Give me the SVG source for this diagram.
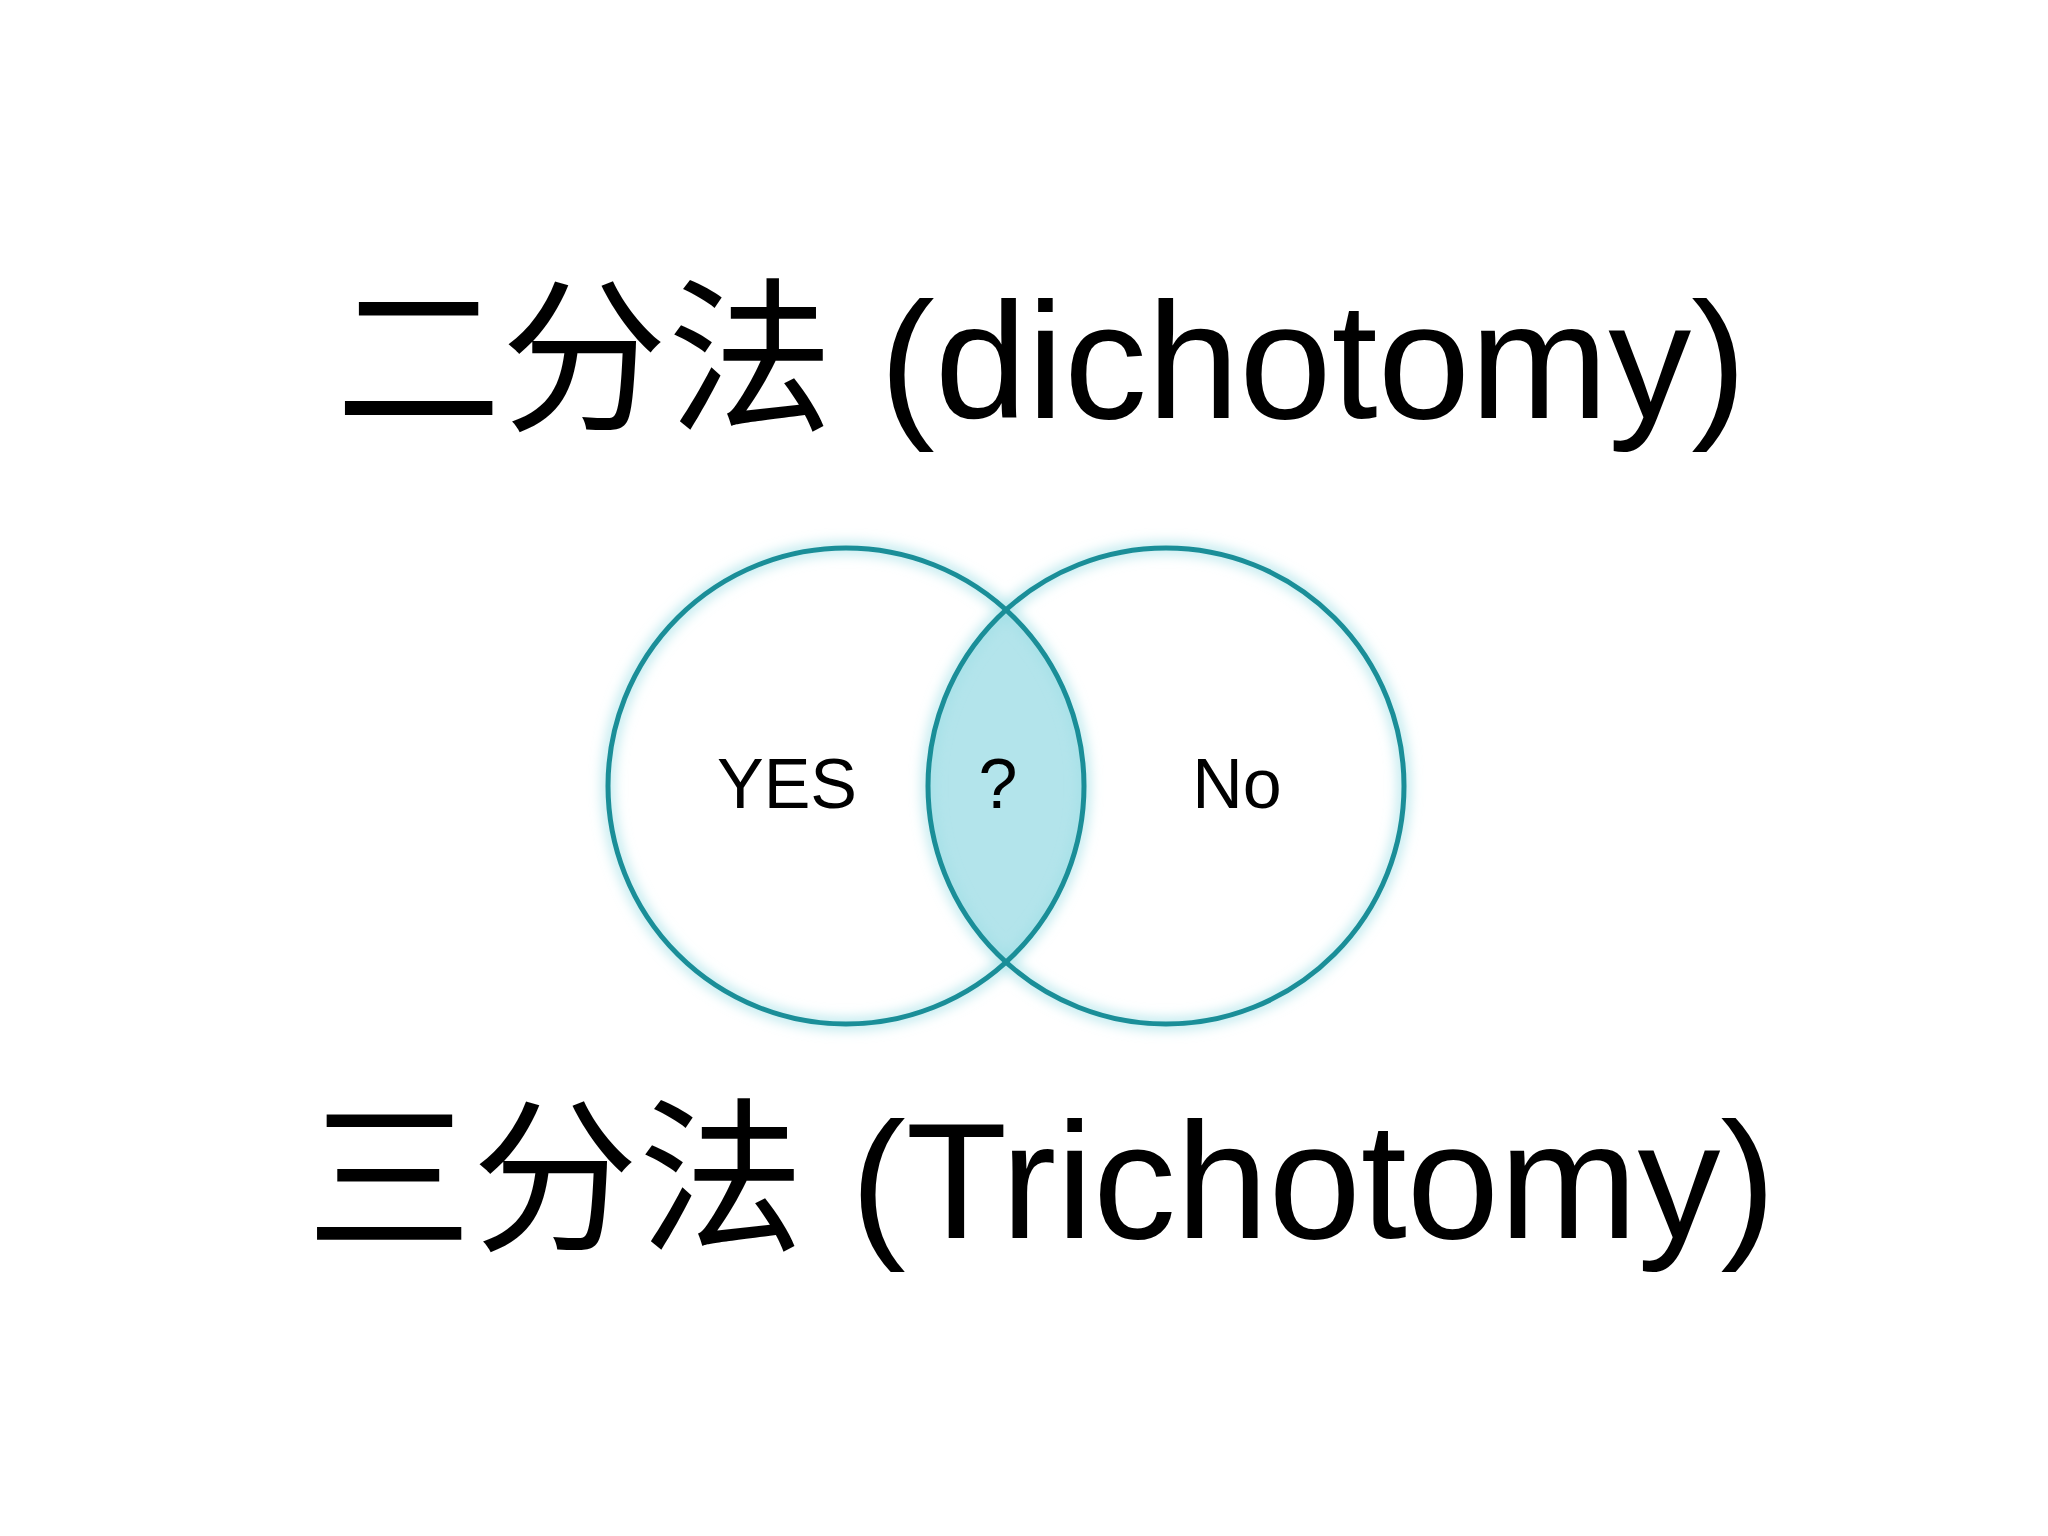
<svg xmlns="http://www.w3.org/2000/svg" width="2048" height="1536" viewBox="0 0 2048 1536">
<style>
.t{font-family:"Liberation Sans","Noto Sans CJK SC",sans-serif;fill:#000;text-anchor:middle}
.title{font-size:166px}
.lbl{font-size:70px}
.c{fill:none;stroke:#1a8e98;stroke-width:5}
.g{fill:none;stroke:#9fdfe6;stroke-width:14;opacity:0.6}
</style>
<defs>
<filter id="blur" x="-20%" y="-20%" width="140%" height="140%"><feGaussianBlur stdDeviation="6"/></filter>
<clipPath id="clipL"><circle cx="846" cy="786" r="238"/></clipPath>
</defs>
<rect width="2048" height="1536" fill="#fff"/>
<g id="title1"><text class="t title" x="1041" y="418">二分法 (dichotomy)</text></g>
<g id="intersection"><circle cx="1166" cy="786" r="238" fill="#b3e4eb" clip-path="url(#clipL)"/></g>
<g id="glow" filter="url(#blur)">
<circle class="g" cx="846" cy="786" r="238"/>
<circle class="g" cx="1166" cy="786" r="238"/>
</g>
<g id="yes"><circle class="c" cx="846" cy="786" r="238"/><text class="t lbl" x="787" y="808">YES</text></g>
<g id="no"><circle class="c" cx="1166" cy="786" r="238"/><text class="t lbl" x="1237" y="808">No</text></g>
<g id="q"><text class="t lbl" x="998" y="808">?</text></g>
<g id="connectors"/>
<g id="title2"><text class="t title" x="1041" y="1238">三分法 (Trichotomy)</text></g>
</svg>
